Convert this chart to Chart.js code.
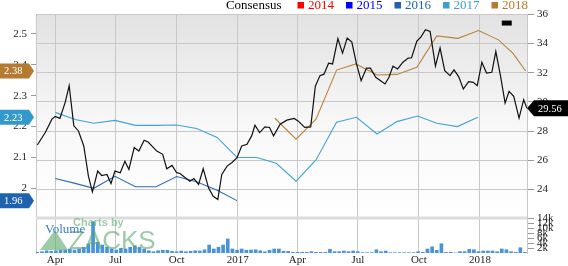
<!DOCTYPE html>
<html><head><meta charset="utf-8">
<script src="https://cdn.jsdelivr.net/npm/chart.js@4/dist/chart.umd.min.js"></script>
<style>html,body{margin:0;padding:0;background:#fff}#wrap{width:568px;height:266px;position:relative}</style>
</head><body><div id="wrap"><canvas id="c" width="568" height="266"></canvas></div>
<script>
// x values are day numbers counted from 2016-01-01
const tickDays = [91, 182, 274, 366, 456, 547, 639, 731];
const tickLabels = ['Apr', 'Jul', 'Oct', '2017', 'Apr', 'Jul', 'Oct', '2018'];
const priceTicks = [24, 26, 28, 30, 32, 34, 36];
const epsTicks = [2.0, 2.1, 2.2, 2.3, 2.4, 2.5];
const volumeTicks = [2000, 4000, 6000, 8000, 10000, 12000, 14000];

const legendNames = ['Consensus', '2014', '2015', '2016', '2017', '2018'];
const legendColors = ['#000000', '#ff0000', '#0000ff', '#1f63b0', '#3d9ed3', '#b47b30'];

const priceDays = [64,76,86,91,98,106,112,119,126,134,141,147,155,161,169,175,181,189,196,202,210,217,225,231,244,253,259,267,274,279,287,294,300,307,314,322,329,336,342,350,357,365,372,380,387,392,399,407,414,420,430,440,451,457,467,476,483,490,496,503,509,517,524,531,538,545,552,560,566,574,588,594,600,607,615,623,628,636,642,649,656,664,671,678,686,692,699,706,714,721,727,734,741,749,755,762,769,775,782,790,797,802];
const priceValues = [27.05,27.90,28.82,29.00,28.87,29.97,31.11,28.36,28.01,26.98,24.91,23.84,25.26,24.96,25.03,24.41,25.26,25.15,25.94,25.37,26.87,26.63,27.37,27.25,26.63,26.41,25.42,25.65,25.15,25.10,24.80,24.57,24.75,24.34,25.42,24.11,23.53,23.31,25.03,25.60,25.83,26.18,26.98,27.10,27.67,28.40,27.90,28.29,28.25,27.67,28.47,28.75,28.87,28.70,28.25,28.29,31.07,31.80,31.90,32.65,32.60,34.33,33.34,34.37,34.10,32.60,31.45,32.31,32.31,31.69,31.23,31.69,32.45,32.26,32.72,33.00,33.02,34.17,34.44,34.95,34.83,32.45,33.69,32.14,31.80,32.19,31.73,30.88,31.39,31.34,31.11,32.72,31.98,32.03,33.45,31.80,29.92,30.72,30.38,28.89,30.15,29.56];

const eps2016Days = [91,121,149,181,212,243,274,304,335,365];
const eps2016Values = [2.032,2.016,2.000,2.039,2.005,2.005,2.038,2.021,1.994,1.96];
const eps2017Days = [91,121,149,181,212,244,274,304,335,365,395,424,454,484,515,545,576,606,637,666,697,728];
const eps2017Values = [2.246,2.223,2.211,2.220,2.204,2.204,2.205,2.194,2.165,2.100,2.100,2.081,2.023,2.092,2.214,2.230,2.176,2.216,2.234,2.211,2.200,2.23];
const eps2018Days = [422,454,484,515,544,576,606,636,666,698,729,759,781,800];
const eps2018Values = [2.227,2.159,2.224,2.383,2.403,2.367,2.369,2.392,2.494,2.486,2.511,2.481,2.437,2.38];

const volumeFirstDay = 64;
const volumeStepDays = 7;
const volumeValues = [300,500,900,700,900,1200,1200,1600,1200,1600,2300,3600,12500,4300,3200,2300,1600,1200,1900,1600,2300,2900,2300,1600,900,500,900,1100,1100,700,500,800,500,700,900,800,1300,3200,1600,2300,3200,5600,1600,1100,1600,1100,1200,1300,900,500,1100,1600,1600,
670,670,270,270,270,270,530,270,270,270,1500,530,530,800,530,800,530,130,130,130,1300,530,800,130,130,130,130,130,130,530,270,1600,2500,1070,3700,270,270,50,530,530,1500,1300,530,800,800,800,530,1600,1300,530,270,2100,270];
const volumeDays = volumeValues.map((v, i) => volumeFirstDay + i * volumeStepDays);

const markDays = [764, 779];
const markValues = [35.4, 35.4];

const xy = (d, v) => d.map((x, i) => ({x: x, y: v[i]}));
const SERIF = "'Liberation Serif', 'DejaVu Serif', serif";
const SANS = "'Liberation Sans', 'DejaVu Sans', sans-serif";

function fixTicks(list) { return function (s) { s.ticks = list.map(v => ({value: v})); }; }

const bgPlugin = {
  id: 'bg',
  afterLayout(chart) {
    const a = chart.chartArea, v = chart.scales.vol;
    v.left = a.right; v.right = chart.width;
    v._labelItems = null; v._gridLineItems = null;
  },
  beforeDraw(chart) {
    const {ctx, chartArea: a, scales} = chart;
    const sep = scales.vol.getPixelForValue(14000);
    ctx.save();
    const g = ctx.createLinearGradient(0, a.top, 0, sep);
    g.addColorStop(0, '#e2e2e2');
    g.addColorStop(0.55, '#f8f8f8');
    g.addColorStop(1, '#ffffff');
    ctx.fillStyle = g;
    ctx.fillRect(a.left, a.top, a.right - a.left, sep - a.top);
    ctx.restore();
  },
  beforeDatasetsDraw(chart) {
    const {ctx, chartArea: a, scales} = chart;
    const sep = scales.vol.getPixelForValue(14000);
    ctx.save();
    ctx.fillStyle = '#dcdcdc';
    ctx.fillRect(a.left, sep - 1.5, a.right - a.left, 3);
    ctx.restore();
  },
  afterDatasetsDraw(chart) {
    const {ctx, chartArea: a} = chart;
    ctx.save();
    ctx.globalAlpha = 0.6;
    ctx.fillStyle = '#5aa86b';
    ctx.beginPath();
    ctx.moveTo(a.left + 4, a.bottom - 3);
    ctx.lineTo(a.left + 19, a.bottom - 23);
    ctx.lineTo(a.left + 32, a.bottom - 3);
    ctx.closePath();
    ctx.fill();
    ctx.font = "bold 11px " + SANS;
    ctx.textBaseline = 'alphabetic';
    ctx.textAlign = 'left';
    ctx.fillText('Charts by', a.left + 37, a.bottom - 27);
    ctx.font = "26px " + SANS;
    ctx.fillText('ZACKS', a.left + 33, a.bottom - 4);
    ctx.globalAlpha = 1;
    ctx.fillStyle = '#3a7cc8';
    ctx.font = "13px " + SERIF;
    ctx.fillText('Volume', a.left + 9, a.bottom - 20);
    ctx.restore();
  },
  afterDraw(chart) {
    const {ctx, chartArea: a, scales} = chart;
    ctx.save();
    ctx.font = "10.5px " + SERIF;
    ctx.textBaseline = 'middle';
    ctx.textAlign = 'left';
    const leftTag = (val, color) => {
      const y = scales.eps.getPixelForValue(val);
      ctx.fillStyle = color;
      ctx.beginPath();
      ctx.moveTo(0, y - 7.5); ctx.lineTo(a.left - 7, y - 7.5); ctx.lineTo(a.left - 2, y);
      ctx.lineTo(a.left - 7, y + 7.5); ctx.lineTo(0, y + 7.5); ctx.closePath(); ctx.fill();
      ctx.fillStyle = '#fff';
      ctx.fillText(val.toFixed(2), 4, y + 0.5);
    };
    leftTag(eps2018Values[eps2018Values.length - 1], '#b47b30');
    leftTag(eps2017Values[eps2017Values.length - 1], '#3399cc');
    leftTag(eps2016Values[eps2016Values.length - 1], '#1f63b0');
    const pv = priceValues[priceValues.length - 1];
    const py = scales.price.getPixelForValue(pv);
    ctx.fillStyle = '#000';
    ctx.beginPath();
    ctx.moveTo(a.right, py); ctx.lineTo(a.right + 7, py - 8); ctx.lineTo(chart.width, py - 8);
    ctx.lineTo(chart.width, py + 8); ctx.lineTo(a.right + 7, py + 8); ctx.closePath(); ctx.fill();
    ctx.fillStyle = '#fff';
    ctx.fillText(pv.toFixed(2), a.right + 11, py + 0.5);
    // legend
    ctx.font = "13px " + SERIF;
    ctx.textBaseline = 'middle';
    let x = a.right + 1;
    const ly = 5.5;
    for (let i = legendNames.length - 1; i >= 0; i--) {
      const w = ctx.measureText(legendNames[i]).width;
      x -= w;
      ctx.fillStyle = legendColors[i];
      ctx.fillText(legendNames[i], x, ly);
      if (i > 0) {
        x -= 4 + 6.5;
        ctx.fillRect(x, ly - 3.5, 6.5, 6.5);
        x -= (i === 1 ? 16 : 12);
      }
    }
    ctx.restore();
  }
};

const lineDs = (label, d, v, color, axis, w) => ({
  type: 'line', label: label, data: xy(d, v), yAxisID: axis, xAxisID: 'x',
  borderColor: color, borderWidth: w, pointRadius: 0, tension: 0, fill: false
});

new Chart(document.getElementById('c'), {
  type: 'line',
  data: {
    datasets: [
      lineDs('Price', priceDays, priceValues, '#111111', 'price', 1.2),
      lineDs('Mark', markDays, markValues, '#000000', 'price', 5),
      lineDs('2018', eps2018Days, eps2018Values, '#b8843a', 'eps', 1.1),
      lineDs('2017', eps2017Days, eps2017Values, '#44a3d6', 'eps', 1.1),
      lineDs('2016', eps2016Days, eps2016Values, '#2a6cb8', 'eps', 1.1),
      {type: 'bar', label: 'Volume', data: xy(volumeDays, volumeValues), xAxisID: 'x', yAxisID: 'vol',
       backgroundColor: '#4a92da', barThickness: 3, borderWidth: 0}
    ]
  },
  options: {
    responsive: false, animation: false, devicePixelRatio: 1,
    layout: {padding: {top: 14, left: 0, right: 0, bottom: 0}},
    plugins: {legend: {display: false}, tooltip: {enabled: false}},
    scales: {
      x: {
        type: 'linear', min: 62, max: 802, offset: false,
        afterBuildTicks: fixTicks(tickDays),
        afterFit(s) { s.height = 13; },
        grid: {color: '#c8c8c8', drawTicks: false, offset: false},
        border: {display: false},
        ticks: {padding: 1, color: '#222', font: {family: SERIF, size: 11}, maxRotation: 0, autoSkip: false,
                callback: (v) => tickLabels[tickDays.indexOf(v)]}
      },
      eps: {
        type: 'linear', position: 'left', min: 1.7903, max: 2.5648,
        afterBuildTicks: fixTicks(epsTicks),
        afterFit(s) { s.width = 36; },
        grid: {drawOnChartArea: false, tickLength: 5, tickColor: '#999'},
        border: {display: true, color: '#c8c8c8'},
        ticks: {padding: 4, color: '#222', font: {family: SERIF, size: 11}, autoSkip: false,
                callback: (v) => String(+v.toFixed(2))}
      },
      price: {
        type: 'linear', position: 'right', weight: 0, min: 19.65, max: 36.02,
        afterBuildTicks: fixTicks(priceTicks),
        afterFit(s) { s.width = 41; },
        grid: {color: '#c8c8c8', tickLength: 7, tickColor: '#999'},
        border: {display: true, color: '#c8c8c8'},
        ticks: {padding: 3, color: '#222', font: {family: SERIF, size: 11}, autoSkip: false}
      },
      vol: {
        type: 'linear', position: 'right', weight: 1, min: 0, max: 95600,
        afterBuildTicks: fixTicks(volumeTicks),
        afterFit(s) { s.width = 0; },
        grid: {drawOnChartArea: false, tickLength: 7, tickColor: '#999'},
        border: {display: false},
        ticks: {padding: 3, color: '#222', font: {family: SERIF, size: 11}, autoSkip: false,
                callback: (v) => (v / 1000) + 'k'}
      }
    }
  },
  plugins: [bgPlugin]
});
</script>
</body></html>
